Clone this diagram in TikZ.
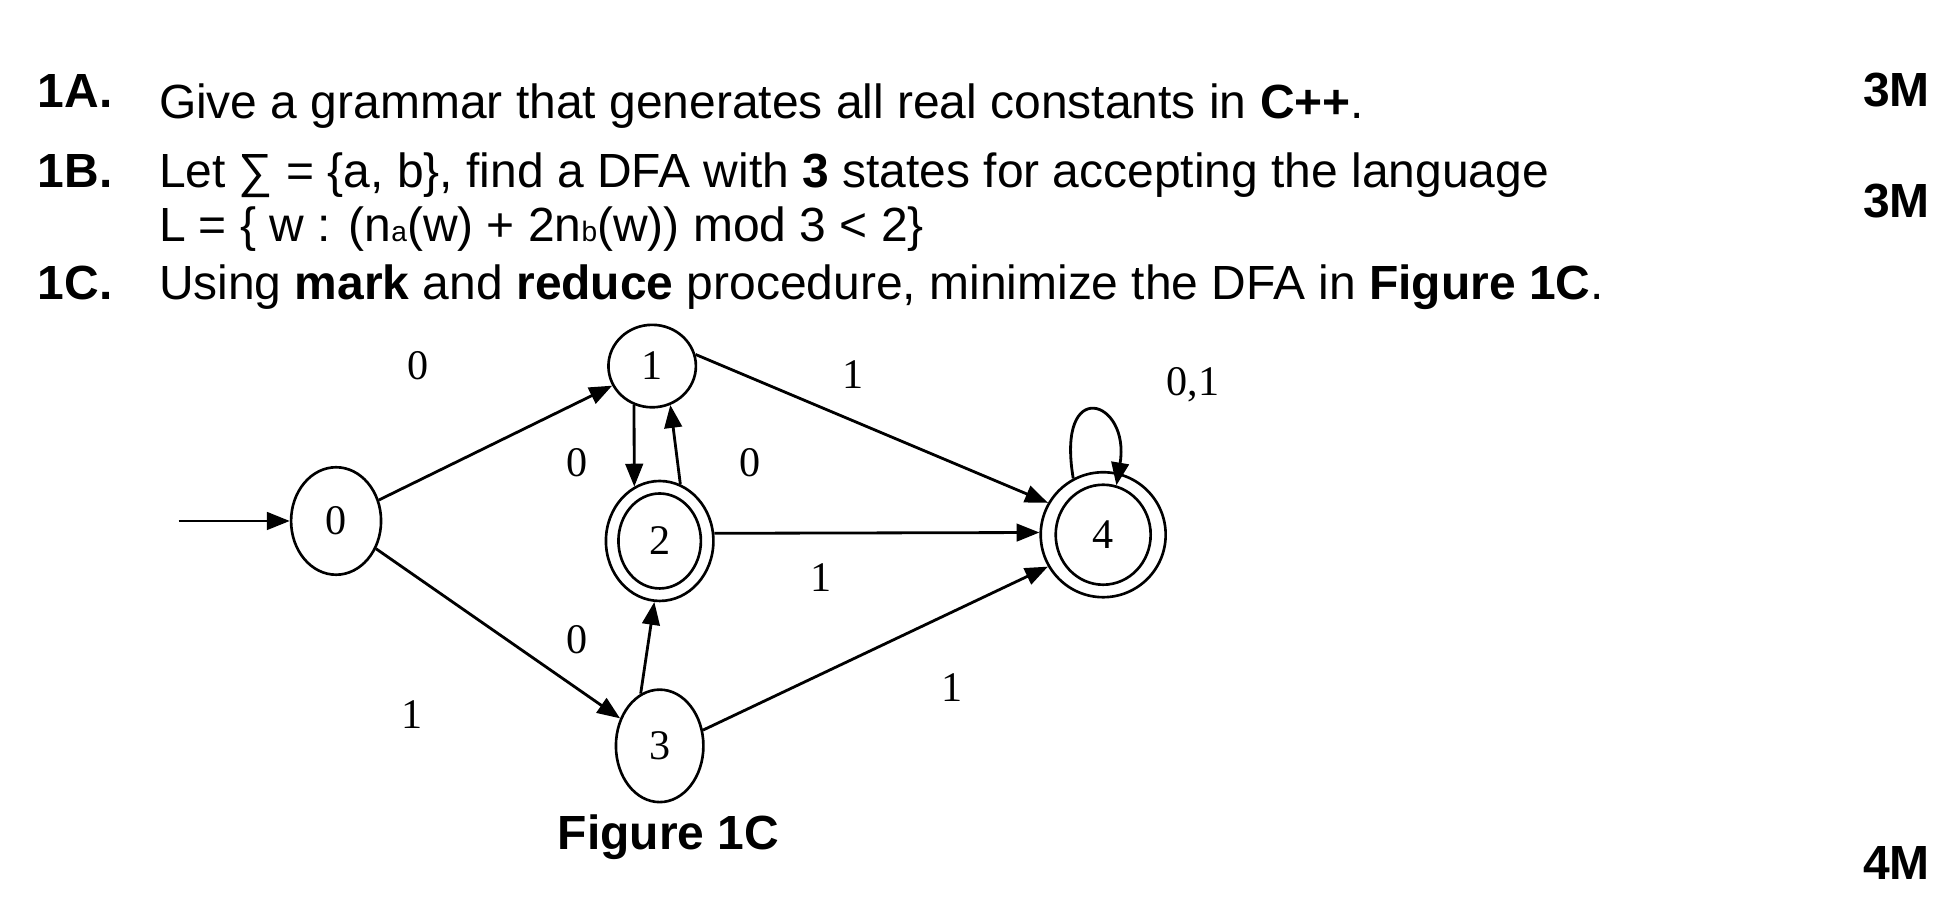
\documentclass[tikz,border=0pt]{standalone}
\usepackage{fontspec}
\setmainfont{Liberation Sans}
\newfontfamily\tnr{Liberation Serif}
\usetikzlibrary{shapes.geometric,arrows.meta}
\begin{document}
\begin{tikzpicture}[x=0.025cm,y=-0.025cm,
  txt/.style={anchor=base west,inner sep=0pt,font=\fontsize{27.3}{32}\selectfont},
  st/.style={ellipse,draw,line width=1.5pt,inner sep=0pt,font=\tnr\fontsize{24}{28}\selectfont},
  lab/.style={font=\tnr\fontsize{24}{28}\selectfont,inner sep=0pt},
  ed/.style={line width=1.6pt,-{Triangle[length=13pt,width=10pt]}}]
\useasboundingbox (0,0) rectangle (1568,730);
\node[txt] (t1a) at (30,86) {\textbf{1A.}};
\node[txt] (t1) at (127,95) {Give a grammar that generates all real constants in \textbf{C++}.};
\node[txt,anchor=base east] (m1) at (1545,85) {\textbf{3M}};
\node[txt] (t1b) at (30,150) {\textbf{1B.}};
\node[txt] (t2) at (127,150) {Let ∑ = \{a, b\}, find a DFA with \textbf{3} states for accepting the language};
\node[txt] (t3) at (127,193) {L = \{ w : (n{\fontsize{16}{18}\selectfont a}(w) + 2n{\fontsize{16}{18}\selectfont b}(w)) mod 3 < 2\}};
\node[txt,anchor=base east] (m2) at (1545,174) {\textbf{3M}};
\node[txt] (t1c) at (30,240) {\textbf{1C.}};
\node[txt] (t4) at (127,240) {Using \textbf{mark} and \textbf{reduce} procedure, minimize the DFA in \textbf{Figure 1C}.};
\node[txt,anchor=base] (fig) at (535,680) {\textbf{Figure 1C}};
\node[txt,anchor=base east] (m3) at (1545,704) {\textbf{4M}};

\node[st,minimum width=1.8cm,minimum height=2.15cm] (s0) at (269,417) {0};
\node[st,minimum width=1.75cm,minimum height=1.65cm] (s1) at (522,293) {1};
\node[st,minimum width=2.15cm,minimum height=2.4cm] (s2) at (528,433) {};
\node[st,minimum width=1.65cm,minimum height=1.9cm] (s2i) at (528,433) {2};
\node[st,minimum width=1.75cm,minimum height=2.25cm] (s3) at (528,597) {3};
\node[st,minimum width=2.5cm,minimum height=2.5cm] (s4) at (883,428) {};
\node[st,minimum width=1.9cm,minimum height=2cm] (s4i) at (883,428) {4};
\coordinate (init) at (143,417);

\draw[ed] (init) -- (s0);
\draw[ed] (s0) -- (s1);
\draw[ed] (s0) -- (s3);
\draw[ed] (s1.245) -- (s2.115);
\draw[ed] (s2.70) -- (s1.295);
\draw[ed] (s1.15) -- (s4.150);
\draw[ed] (s2.8) -- (s4.178);
\draw[ed] (s3.110) -- (s2.265);
\draw[ed] (s3.20) -- (s4.210);
\draw[ed] (s4.118) .. controls (845,300) and (905,320) .. (s4i.75);

\node[lab] (l1) at (335,293) {0};
\node[lab] (l2) at (330,572) {1};
\node[lab] (l3) at (462,370) {0};
\node[lab] (l4) at (600,370) {0};
\node[lab] (l5) at (683,300) {1};
\node[lab] (l6) at (657,462) {1};
\node[lab] (l7) at (462,512) {0};
\node[lab] (l8) at (762,550) {1};
\node[lab] (l9) at (955,308) {0,1};
\end{tikzpicture}
\end{document}
